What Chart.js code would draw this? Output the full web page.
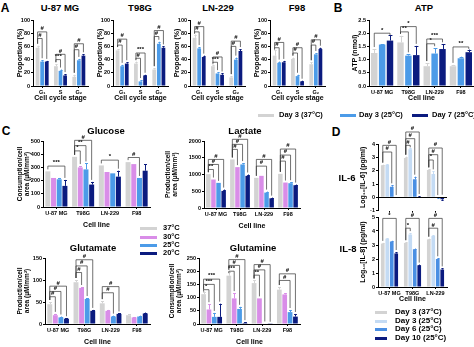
<!DOCTYPE html>
<html>
<head>
<meta charset="utf-8">
<script src="https://cdn.jsdelivr.net/npm/chart.js@4.4.0/dist/chart.umd.min.js"></script>
<style>
  body { margin: 0; background: #fff; }
  #fig { position: relative; width: 474px; height: 347px; overflow: hidden;
         font-family: "Liberation Sans", Arial, sans-serif; color: #000; }
  #fig canvas { position: absolute; }
  .t { position: absolute; white-space: nowrap; font-weight: bold; line-height: 1; }
  .sw { position: absolute; height: 3px; }
</style>
</head>
<body>
<div id="fig"></div>
<script>
// ---- categories ----
const stages = ['G\u2081', 'S', 'G\u2082'];
const cellLines = ['U-87 MG', 'T98G', 'LN-229', 'F98'];
const cellLines3 = ['U-87 MG', 'T98G', 'LN-229'];
const cycleLegend = ['Day 3 (37\u00b0C)', 'Day 3 (25\u00b0C)', 'Day 7 (25\u00b0C)'];
const tempLegend = ['37\u00b0C', '30\u00b0C', '25\u00b0C', '20\u00b0C'];
const ilLegend = ['Day 3 (37\u00b0C)', 'Day 3 (25\u00b0C)', 'Day 6 (25\u00b0C)', 'Day 10 (25\u00b0C)'];

// ---- A: cell cycle (%), one row per condition, across G1 / S / G2 ----
const u87Cycle   = [[58, 30, 14], [37, 23, 39], [37, 16, 46]];
const t98gCycle  = [[54, 34, 25], [30, 7, 64], [34, 16, 58]];
const ln229Cycle = [[73, 30, 13], [57, 19, 40], [44, 17, 53]];
const f98Cycle   = [[46, 41, 33], [35, 15, 48], [36, 7, 56]];
const u87CycleErr   = [[3, 3, 3], [2, 2, 2], [1, 2, 2]];
const t98gCycleErr  = [[2, 3, 2], [2, 2, 3], [2, 1, 2]];
const ln229CycleErr = [[5, 2, 2], [2, 2, 3], [2, 2, 3]];
const f98CycleErr   = [[8, 2, 3], [2, 2, 2], [2, 1, 2]];

// ---- B: ATP (nmol) ----
const atp    = [[1.25, 1.65, 0.75, 0.75], [1.57, 1.15, 1.23, 1.05], [1.72, 1.17, 1.40, 1.28]];
const atpErr = [[0.15, 0.25, 0.12, 0.05], [0.02, 0.05, 0.2, 0.06], [0.2, 0.35, 0.18, 0.1]];

// ---- C: metabolites, one row per temperature (37, 30, 25, 20 C) ----
const glucose    = [[270, 380, 315, 340], [220, 300, 265, 325], [210, 285, 255, 220], [160, 170, 230, 275]];
const glucoseErr = [[0, 0, 0, 0], [0, 10, 0, 0], [10, 45, 0, 0], [45, 20, 45, 50]];
const lactate    = [[1010, 1450, 900, 1020], [850, 1220, 960, 760], [750, 1300, 460, 740], [510, 960, 290, 680]];
const lactateErr = [[0, 0, 0, 0], [0, 0, 0, 0], [0, 40, 30, 30], [40, 40, 20, 20]];
const glutamate    = [[45, 95, 47, 20], [20, 82, 30, 15], [15, 57, 17, 17], [12, 30, 23, 24]];
const glutamateErr = [[5, 5, 5, 2], [3, 2, 2, 1], [2, 2, 2, 2], [1, 2, 1, 2]];
const glutamine    = [[113, 183, 155, 130], [55, 97, 97, 112], [27, 57, 2, 45], [27, 4, 1, 28]];
const glutamineErr = [[10, 15, 10, 10], [20, 20, 0, 5], [15, 8, 0, 8], [50, 3, 0, 10]];

// ---- D: cytokines, log10 pg/ml ----
const il6    = [[2.4, 2.95, 2.05], [2.45, 3.6, 1.75], [0.8, 1.35, -0.05], [0, 0.05, -0.15]];
const il6Err = [[0.05, 0.1, 0.05], [0.05, 0.1, 0.2], [0.1, 0.2, 0.02], [0.02, 0.05, 0.05]];
const il8    = [[3.1, 3.15, 3.4], [3.45, 3.75, 3.65], [3.25, 2.7, 2.0], [2.4, 1.55, 1.25]];
const il8Err = [[0.05, 0.05, 0.05], [0.05, 0.1, 0.05], [0.05, 0.05, 0.05], [0.1, 0.05, 0.08]];

// significance brackets: [category, bar a, bar b, level, label]
const u87Sig   = [[0,0,1,72,'#'],[0,0,2,82,'#'],[1,0,1,40,'***'],[1,0,2,48,'#'],[2,0,1,55,'#'],[2,0,2,64,'#']];
const t98gSig  = [[0,0,1,62,'#'],[0,0,2,71,'#'],[1,0,1,42,'#'],[1,0,2,50,'***'],[2,0,1,75,'#'],[2,0,2,84,'#']];
const ln229Sig = [[0,0,1,82,'#'],[0,0,2,90,'#'],[1,0,1,36,'***'],[1,0,2,44,'#'],[2,0,1,60,'#'],[2,0,2,68,'#']];
const f98Sig   = [[0,0,1,58,'#'],[0,0,2,66,'#'],[1,0,1,50,'#'],[1,0,2,58,'#'],[2,0,1,62,'#'],[2,0,2,70,'#']];
const atpSig   = [[0,0,2,2.0,'*'],[1,0,1,2.05,'**'],[1,0,2,2.25,'*'],[2,0,1,1.6,'*'],[2,0,2,1.78,'***'],[3,0,2,1.48,'**']];
const glucoseSig = [[0,0,3,310,'***'],[1,0,1,425,'*'],[1,0,2,465,'**'],[1,0,3,505,'#'],[2,0,3,355,'*'],[3,0,2,375,'#']];
const lactateSig = [[0,0,1,1150,'**'],[0,0,2,1300,'#'],[0,0,3,1450,'#'],[1,0,1,1750,'#'],[1,0,2,1900,'#'],[1,0,3,2050,'#'],
                    [2,0,2,1250,'#'],[2,0,3,1450,'#'],[3,0,1,1400,'#'],[3,0,2,1580,'#'],[3,0,3,1760,'#']];
const glutamateSig = [[0,0,1,62,'#'],[0,0,2,74,'#'],[0,0,3,86,'#'],[1,0,1,117,'#'],[1,0,2,132,'#'],[1,0,3,146,'#'],
                      [2,0,2,71,'#'],[2,0,3,85,'#']];
const glutamineSig = [[0,0,1,130,'*'],[0,0,2,150,'***'],[0,0,3,170,'***'],[1,0,1,200,'***'],[1,0,2,222,'#'],[1,0,3,244,'#'],
                      [2,0,1,185,'**'],[2,0,2,205,'#'],[2,0,3,225,'#'],[3,0,2,165,'#'],[3,0,3,190,'#']];
const il6Sig = [[0,0,2,3.4,'#'],[0,0,3,3.9,'#'],[1,0,1,3.9,'#'],[1,0,2,4.4,'#'],[1,0,3,4.9,'#'],[2,0,1,2.8,'*'],[2,0,2,3.2,'#'],[2,0,3,3.7,'#']];
const il8Sig = [[0,0,3,4.9,'*'],[1,0,1,4.2,'*'],[1,0,3,4.9,'#'],[2,0,2,4.2,'#'],[2,0,3,4.9,'#']];

const GRAY = '#d3d3d3', BLUE = '#4c9be8', NAVY = '#0b1b7f', VIOLET = '#d98de8', PALE = '#c4dbf4', MID = '#4a8fe3';
const cycleColors = [GRAY, BLUE, NAVY];
const tempColors = [GRAY, VIOLET, BLUE, NAVY];
const ilColors = [GRAY, PALE, MID, NAVY];

Chart.defaults.font.family = "'Liberation Sans', Arial, sans-serif";
Chart.defaults.font.weight = 'bold';
Chart.defaults.color = '#000';

const fig = document.getElementById('fig');

// error bars + significance brackets, placed through the chart's scales
const marks = {
  id: 'marks',
  afterDatasetsDraw(chart, args, opts) {
    const ctx = chart.ctx, ys = chart.scales.y;
    const top = (i, j) => {
      const ds = chart.data.datasets[i];
      const v = ds.data[j], e = (ds.err && ds.err[j]) || 0;
      return ys.getPixelForValue(Math.max(v, 0) + e);
    };
    ctx.save();
    ctx.lineWidth = 1;
    chart.data.datasets.forEach((ds, i) => {
      if (!ds.err) return;
      chart.getDatasetMeta(i).data.forEach((bar, j) => {
        const e = ds.err[j];
        if (!e) return;
        const v = ds.data[j];
        const y1 = ys.getPixelForValue(v), y2 = ys.getPixelForValue(v + (v < 0 ? -e : e));
        const x = Math.round(bar.x) + 0.5, w = Math.max(1, bar.width * 0.3);
        ctx.strokeStyle = ds.backgroundColor;
        ctx.beginPath();
        ctx.moveTo(x, y1); ctx.lineTo(x, y2);
        ctx.moveTo(x - w, Math.round(y2) + 0.5); ctx.lineTo(x + w, Math.round(y2) + 0.5);
        ctx.stroke();
      });
    });
    ctx.strokeStyle = '#333';
    ctx.fillStyle = '#000';
    ctx.lineWidth = 0.7;
    ctx.font = 'bold 6px "Liberation Sans", Arial, sans-serif';
    ctx.textAlign = 'center';
    ctx.textBaseline = 'bottom';
    (opts.sig || []).forEach(([c, a, b, lv, lab]) => {
      const xa = chart.getDatasetMeta(a).data[c].x, xb = chart.getDatasetMeta(b).data[c].x;
      const yl = ys.getPixelForValue(lv);
      const ya = Math.max(yl + 2, top(a, c) - 2), yb = Math.max(yl + 2, top(b, c) - 2);
      ctx.beginPath();
      ctx.moveTo(xa, ya); ctx.lineTo(xa, yl); ctx.lineTo(xb, yl); ctx.lineTo(xb, yb);
      ctx.stroke();
      ctx.fillText(lab, (xa + xb) / 2, yl - 0.3);
    });
    ctx.restore();
  }
};

// zero line for charts whose axis sits below zero
const zeroLine = {
  id: 'zeroLine',
  afterDatasetsDraw(chart, args, opts) {
    if (!opts.on) return;
    const y = Math.round(chart.scales.y.getPixelForValue(0)) + 0.5, a = chart.chartArea;
    chart.ctx.save();
    chart.ctx.strokeStyle = '#000';
    chart.ctx.lineWidth = 1;
    chart.ctx.beginPath();
    chart.ctx.moveTo(a.left, y); chart.ctx.lineTo(a.right, y);
    chart.ctx.stroke();
    chart.ctx.restore();
  }
};

// l,t,r,b = plot area on the page; yW/xH = room for the axes
function plot(o) {
  const padT = o.padT || 6, padR = 2;
  const W = o.r - o.l + o.yW + padR, H = o.b - o.t + padT + o.xH;
  const cv = document.createElement('canvas');
  cv.width = W; cv.height = H;
  cv.style.left = (o.l - o.yW) + 'px';
  cv.style.top = (o.t - padT) + 'px';
  fig.appendChild(cv);
  new Chart(cv, {
    type: 'bar',
    data: {
      labels: o.labels,
      datasets: o.series.map((d, i) => ({
        data: d,
        err: o.errs ? o.errs[i] : null,
        backgroundColor: o.colors[i],
        borderWidth: 0,
        categoryPercentage: o.cat || 0.8,
        barPercentage: o.bar || 0.85
      }))
    },
    options: {
      responsive: false,
      animation: false,
      events: [],
      layout: { padding: { top: padT, right: padR, left: 0, bottom: 0 } },
      plugins: {
        legend: { display: false },
        tooltip: { enabled: false },
        marks: { sig: o.sig },
        zeroLine: { on: !!o.zero }
      },
      scales: {
        x: {
          grid: { display: true, drawOnChartArea: false, offset: false, color: '#000', tickLength: 2 },
          border: { display: !o.zero, color: '#000' },
          ticks: { display: !o.noX, font: { size: 5.5, weight: 'bold' }, padding: 1, maxRotation: 0, autoSkip: false },
          title: { display: !!o.xTitle, text: o.xTitle, font: { size: 7, weight: 'bold' }, padding: { top: 1, bottom: 0 } },
          afterFit(s) { s.height = o.xH; }
        },
        y: {
          min: o.min, max: o.max,
          grid: { drawOnChartArea: false, color: '#000', tickLength: 2 },
          border: { color: '#000' },
          ticks: { stepSize: o.step, font: { size: 5.5, weight: 'bold' }, padding: 1,
                   callback: o.fmt || (v => v) },
          title: { display: true, text: o.yTitle, font: { size: o.ytSize || 7, weight: 'bold' },
                   padding: { top: 0, bottom: 0 } },
          afterFit(s) { s.width = o.yW; }
        }
      }
    },
    plugins: [marks, zeroLine]
  });
}

function txt(s, x, y, size, left) {
  const d = document.createElement('div');
  d.className = 't';
  d.textContent = s;
  d.style.fontSize = size + 'px';
  d.style.left = x + 'px';
  d.style.top = y + 'px';
  d.style.transform = left ? 'translate(0,-50%)' : 'translate(-50%,-50%)';
  fig.appendChild(d);
}
function swatch(x1, x2, y, color) {
  const d = document.createElement('div');
  d.className = 'sw';
  d.style.left = x1 + 'px';
  d.style.width = (x2 - x1) + 'px';
  d.style.top = (y - 1.5) + 'px';
  d.style.background = color;
  fig.appendChild(d);
}

// ---- panel A ----
const cycleBase = { labels: stages, colors: cycleColors, t: 20, b: 86, yW: 17, xH: 16, padT: 6,
                    min: 0, max: 100, step: 20, yTitle: 'Proportion (%)', xTitle: 'Cell cycle stage', cat: 0.75, bar: 0.82 };
plot({ ...cycleBase, l: 33, r: 88, series: u87Cycle, errs: u87CycleErr, sig: u87Sig });
plot({ ...cycleBase, l: 113, r: 168, series: t98gCycle, errs: t98gCycleErr, sig: t98gSig });
plot({ ...cycleBase, l: 190, r: 245, series: ln229Cycle, errs: ln229CycleErr, sig: ln229Sig });
plot({ ...cycleBase, l: 270, r: 325, series: f98Cycle, errs: f98CycleErr, sig: f98Sig });

// ---- panel B ----
plot({ labels: cellLines, colors: cycleColors, l: 369, r: 474, t: 20, b: 86, yW: 18, xH: 16, padT: 6,
       min: 0, max: 2.5, step: 0.5, fmt: v => v.toFixed(1), yTitle: 'ATP (nmol)', xTitle: 'Cell line',
       series: atp, errs: atpErr, sig: atpSig, cat: 0.9, bar: 0.82 });

// ---- panel C ----
const metBase = { labels: cellLines, colors: tempColors, xH: 22, ytSize: 6.5, xTitle: 'Cell line', cat: 0.85, bar: 0.88 };
plot({ ...metBase, l: 43, r: 150, t: 141, b: 207, yW: 27, padT: 14, min: 0, max: 500, step: 100,
       yTitle: ['Consumption/cell', 'area (\u03bcM/mm\u00b2)'], series: glucose, errs: glucoseErr, sig: glucoseSig });
plot({ ...metBase, l: 204, r: 300, t: 141, b: 208, yW: 40, padT: 8, min: 0, max: 2000, step: 500,
       yTitle: ['Production/cell', 'area (\u03bcM/mm\u00b2)'], series: lactate, errs: lactateErr, sig: lactateSig });
plot({ ...metBase, l: 45, r: 150, t: 258, b: 324, yW: 29, padT: 6, min: 0, max: 150, step: 50,
       yTitle: ['Production/cell', 'area (\u03bcM/mm\u00b2)'], series: glutamate, errs: glutamateErr, sig: glutamateSig });
plot({ ...metBase, l: 199, r: 300, t: 258, b: 324, yW: 31, padT: 6, min: 0, max: 250, step: 50,
       yTitle: ['Consumption/cell', 'area (\u03bcM/mm\u00b2)'], series: glutamine, errs: glutamineErr, sig: glutamineSig });

// ---- panel D ----
plot({ labels: cellLines3, colors: ilColors, l: 378, r: 447, t: 144, b: 211, yW: 19, xH: 4, padT: 20,
       min: -1, max: 4, step: 1, yTitle: 'Log\u2081\u2080[IL-6] (pg/ml)', noX: true, zero: true,
       series: il6, errs: il6Err, sig: il6Sig, cat: 0.78, bar: 0.82 });
plot({ labels: cellLines3, colors: ilColors, l: 378, r: 447, t: 217, b: 287, yW: 19, xH: 16, padT: 6,
       min: 0, max: 5, step: 1, yTitle: 'Log\u2081\u2080[IL-8] (pg/ml)', xTitle: 'Cell line',
       series: il8, errs: il8Err, sig: il8Sig, cat: 0.78, bar: 0.82 });

// ---- titles and labels ----
txt('A', 5, 8, 12); txt('B', 338, 8, 12); txt('C', 6, 131, 12); txt('D', 336, 132, 12);
txt('U-87 MG', 60, 8, 9.5); txt('T98G', 140, 8, 9.5); txt('LN-229', 218, 8, 9.5); txt('F98', 297, 8, 9.5);
txt('ATP', 424, 8, 9.5);
txt('Glucose', 106, 131, 9.5); txt('Lactate', 245, 131, 9.5);
txt('Glutamate', 93, 248, 9.5); txt('Glutamine', 253, 248, 9.5);
txt('IL-6', 347, 178, 9.5); txt('IL-8', 348, 249, 9.5);

// legends
const abX = [[258, 274, 279], [340, 356, 359], [412, 428, 432]];
cycleLegend.forEach((s, i) => { swatch(abX[i][0], abX[i][1], 115, cycleColors[i]); txt(s, abX[i][2], 115, 7.5, true); });
const cY = [228, 237, 245, 253];
tempLegend.forEach((s, i) => { swatch(140, 157, cY[i], tempColors[i]); txt(s, 163, cY[i], 7.5, true); });
const dY = [312, 321, 329, 338];
ilLegend.forEach((s, i) => { swatch(375, 387, dY[i], ilColors[i]); txt(s, 395, dY[i], 8, true); });
</script>
</body>
</html>
